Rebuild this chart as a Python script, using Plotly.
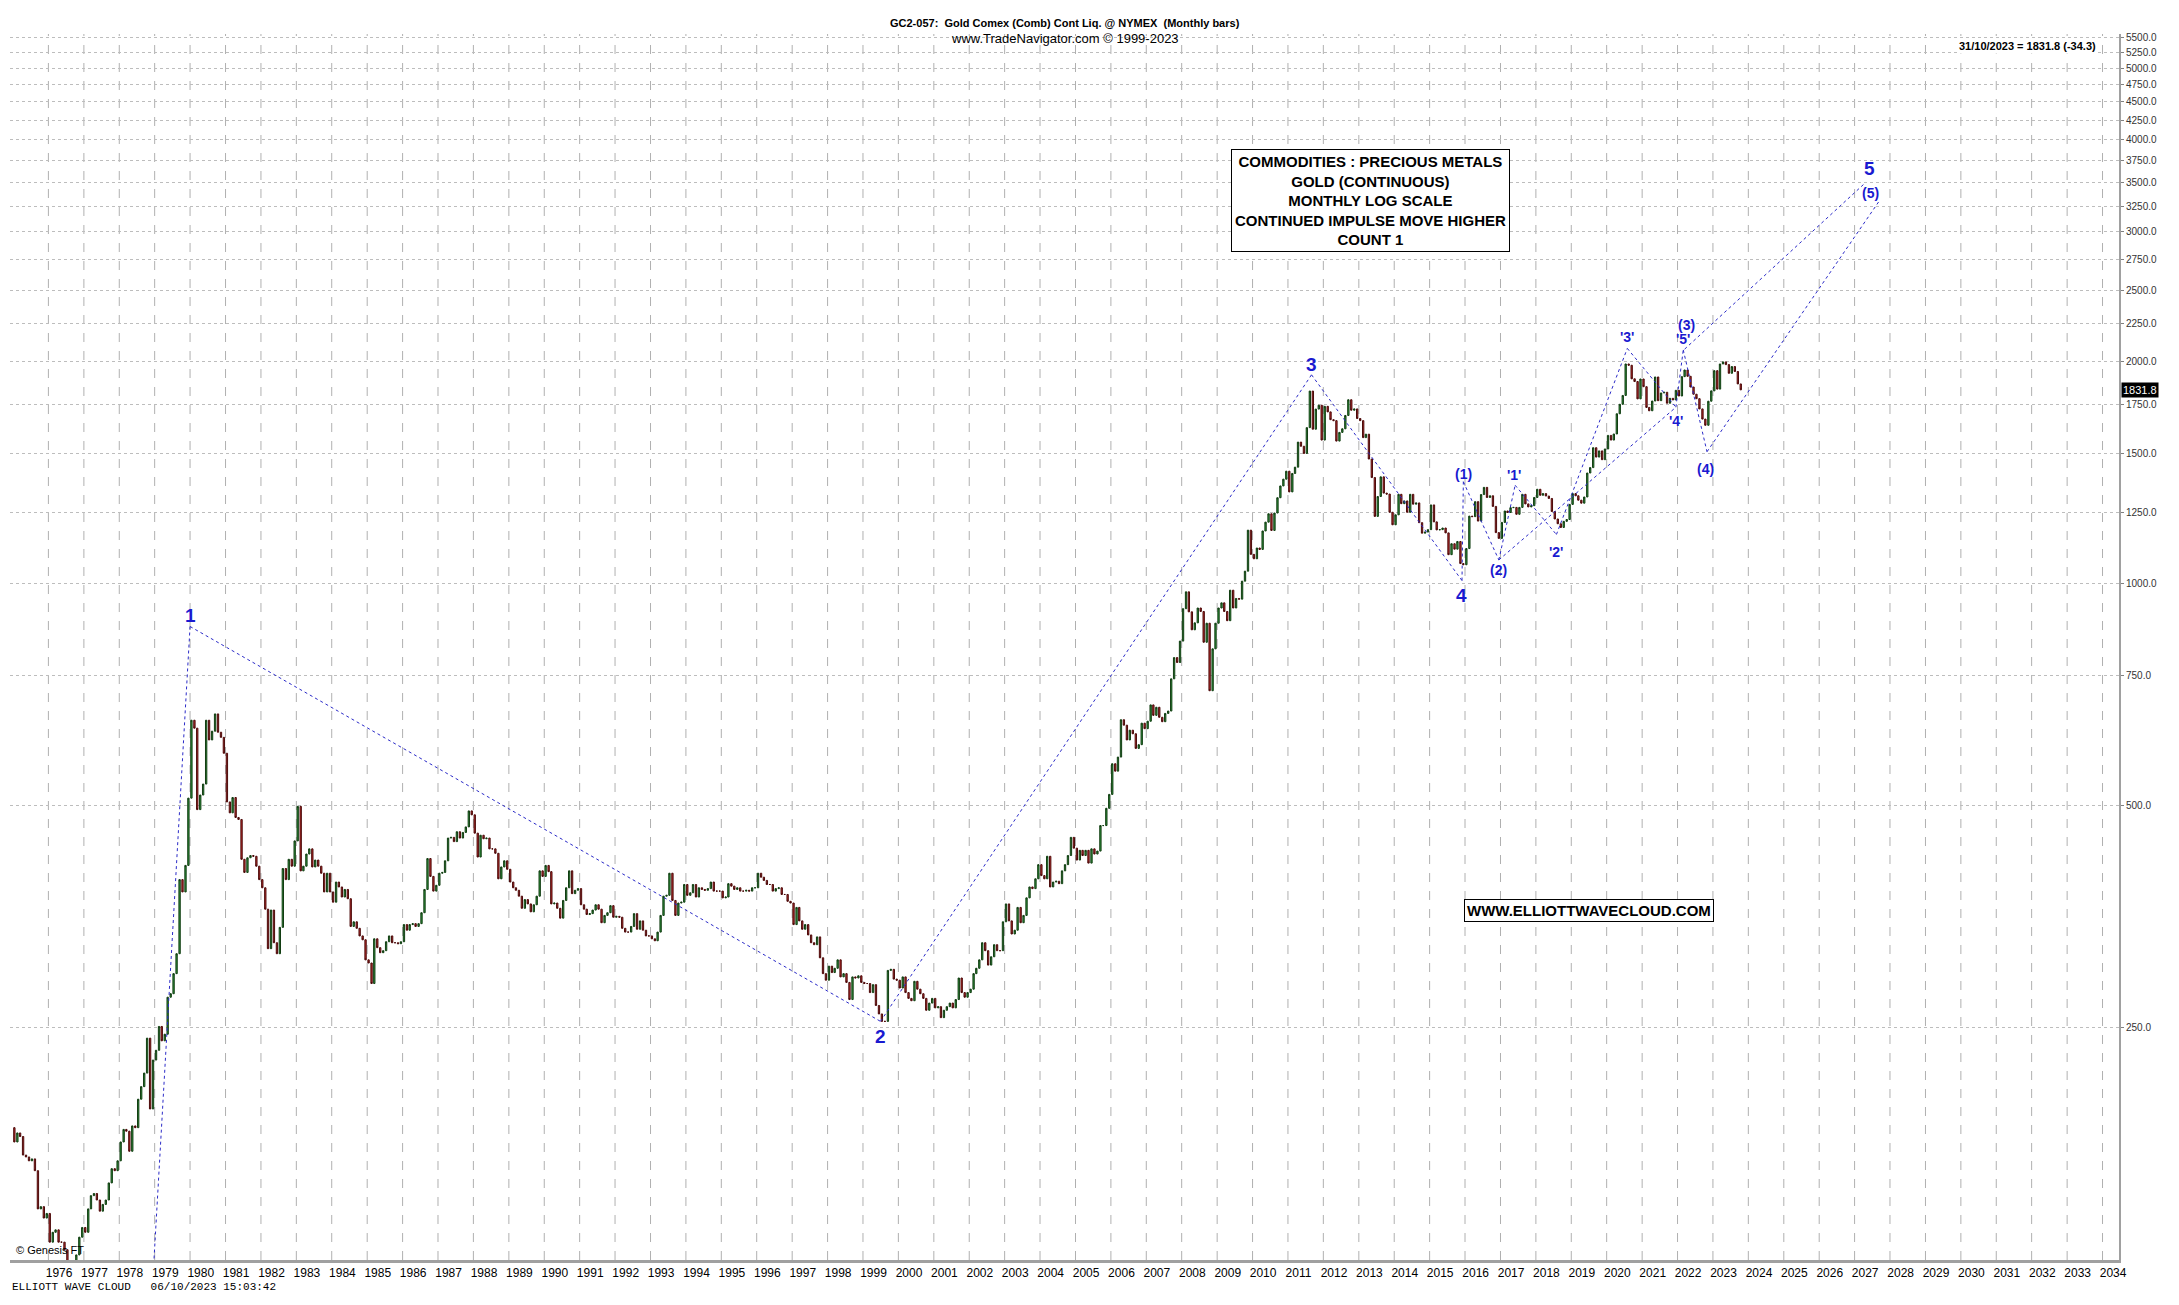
import math
import plotly.graph_objects as go

# monthly closes (Jan..Dec), gold continuous contract
years = list(range(1975, 2024))
first_open = 183.0
closes = [
    [175, 180, 178, 168, 167, 165, 166, 160, 142, 143, 138, 140],
    [128, 132, 133, 128, 128, 125, 113, 104, 116, 123, 130, 134],
    [132, 142, 148, 149, 146, 141, 144, 146, 154, 161, 160, 165],
    [175, 182, 181, 170, 184, 183, 200, 208, 217, 242, 194, 226],
    [233, 251, 240, 245, 275, 278, 296, 315, 397, 382, 415, 512],
    [653, 637, 494, 517, 535, 653, 614, 631, 666, 629, 619, 589],
    [506, 489, 513, 482, 479, 423, 406, 425, 428, 427, 414, 397],
    [387, 362, 320, 361, 326, 315, 342, 411, 397, 423, 414, 448],
    [499, 408, 414, 430, 437, 413, 422, 414, 405, 382, 405, 382],
    [370, 394, 388, 376, 385, 374, 343, 348, 341, 333, 329, 309],
    [306, 287, 330, 321, 316, 318, 327, 333, 326, 326, 325, 327],
    [345, 339, 345, 346, 343, 346, 358, 385, 424, 401, 383, 390],
    [405, 406, 421, 452, 453, 447, 461, 452, 460, 468, 492, 486],
    [459, 426, 456, 451, 452, 437, 437, 431, 398, 413, 421, 410],
    [394, 387, 384, 377, 363, 373, 368, 359, 367, 377, 408, 401],
    [415, 407, 368, 369, 363, 352, 372, 387, 408, 380, 384, 386],
    [367, 362, 356, 357, 361, 367, 362, 347, 355, 358, 366, 353],
    [354, 353, 341, 337, 337, 343, 357, 340, 349, 339, 333, 333],
    [330, 328, 337, 355, 377, 378, 405, 372, 355, 369, 370, 391],
    [378, 381, 391, 376, 387, 385, 384, 386, 394, 383, 383, 383],
    [375, 376, 392, 389, 385, 387, 383, 383, 384, 383, 387, 387],
    [405, 400, 396, 391, 391, 383, 386, 387, 379, 379, 371, 369],
    [345, 364, 349, 340, 345, 334, 326, 324, 332, 311, 296, 290],
    [303, 297, 301, 309, 293, 296, 288, 273, 293, 292, 294, 288],
    [287, 287, 279, 286, 268, 261, 255, 255, 299, 300, 291, 290],
    [283, 293, 279, 274, 272, 289, 282, 278, 274, 264, 270, 274],
    [266, 267, 258, 264, 267, 270, 266, 273, 292, 279, 275, 279],
    [282, 296, 301, 309, 326, 318, 304, 312, 324, 318, 318, 348],
    [368, 349, 335, 339, 364, 347, 355, 375, 388, 386, 398, 416],
    [402, 398, 427, 388, 394, 395, 392, 408, 416, 428, 453, 438],
    [422, 435, 428, 435, 418, 437, 430, 434, 470, 470, 496, 518],
    [570, 557, 582, 654, 643, 614, 633, 626, 598, 605, 647, 636],
    [651, 685, 663, 680, 659, 650, 667, 672, 743, 794, 782, 836],
    [925, 975, 916, 866, 885, 927, 917, 833, 884, 716, 816, 884],
    [927, 942, 917, 891, 980, 927, 955, 953, 1008, 1040, 1182, 1096],
    [1081, 1118, 1113, 1179, 1212, 1244, 1181, 1247, 1308, 1357, 1386, 1421],
    [1332, 1411, 1439, 1556, 1536, 1502, 1628, 1825, 1620, 1725, 1746, 1566],
    [1740, 1710, 1669, 1664, 1561, 1604, 1622, 1691, 1776, 1719, 1726, 1675],
    [1664, 1578, 1595, 1476, 1393, 1234, 1313, 1396, 1327, 1323, 1250, 1202],
    [1240, 1322, 1284, 1295, 1250, 1322, 1282, 1287, 1210, 1171, 1175, 1184],
    [1279, 1213, 1183, 1184, 1190, 1172, 1095, 1133, 1114, 1141, 1065, 1061],
    [1116, 1235, 1233, 1292, 1216, 1321, 1351, 1309, 1316, 1273, 1173, 1152],
    [1211, 1255, 1249, 1268, 1269, 1242, 1269, 1322, 1283, 1271, 1276, 1309],
    [1343, 1318, 1325, 1315, 1305, 1253, 1224, 1206, 1192, 1215, 1222, 1281],
    [1325, 1316, 1298, 1286, 1311, 1413, 1437, 1529, 1485, 1514, 1473, 1523],
    [1589, 1566, 1596, 1700, 1751, 1800, 1986, 1978, 1896, 1880, 1781, 1895],
    [1850, 1734, 1716, 1769, 1907, 1771, 1814, 1818, 1757, 1784, 1775, 1829],
    [1797, 1909, 1949, 1911, 1848, 1807, 1782, 1726, 1672, 1640, 1768, 1826],
    [1945, 1836, 1986, 1999, 1982, 1929, 1970, 1940, 1866, 1831.8],
]

# Elliott wave count labels: label, date, price
wave_labels = ["1", "2", "3", "4", "5", "(1)", "(2)", "(3)", "(4)", "(5)",
               "'1'", "'2'", "'3'", "'4'", "'5'"]
wave_dates = ["1980-01-01", "1999-07-01", "2011-09-01", "2015-12-01", "2027-06-01",
              "2015-12-15", "2016-12-15", "2022-04-01", "2022-10-15", "2027-06-15",
              "2017-05-20", "2018-08-01", "2020-08-01", "2021-12-20", "2022-03-01"]
wave_prices = [905, 243, 1985, 965, 3660, 1410, 1044, 2245, 1430, 3390,
               1403, 1103, 2158, 1662, 2145]
wave_big = [True] * 5 + [False] * 10

# dotted count lines (start date, start price, end date, end price)
line_x0 = ["1978-12-15", "1980-01-01", "1999-07-01", "2011-09-01", "2015-12-01",
           "2015-12-15", "2016-12-15", "2017-06-01", "2018-08-01", "2020-08-01",
           "2021-12-15", "2022-03-01", "2022-03-15", "2022-11-01", "2016-12-15"]
line_y0 = [115, 875, 255, 1920, 1010, 1375, 1077, 1360, 1166, 2085, 1735, 2075, 2080, 1510, 1077]
line_x1 = ["1980-01-01", "1999-07-01", "2011-09-01", "2015-12-01", "2015-12-15",
           "2016-12-15", "2017-06-01", "2018-08-01", "2020-08-01", "2021-12-15",
           "2022-03-01", "2022-11-01", "2027-04-10", "2027-09-10", "2021-12-15"]
line_y1 = [875, 255, 1920, 1010, 1375, 1077, 1360, 1166, 2085, 1735, 2075, 1510, 3485, 3300, 1735]

y_ticks = list(range(250, 5501, 250))
tick_years = list(range(1976, 2035))

dates, opens, highs, lows, cls = [], [], [], [], []
prev = first_open
for yr, row in zip(years, closes):
    for m, c in enumerate(row):
        dates.append(f"{yr}-{m + 1:02d}-15")
        opens.append(prev)
        cls.append(c)
        highs.append(max(prev, c))
        lows.append(min(prev, c))
        prev = c

fig = go.Figure()
fig.add_trace(go.Candlestick(
    x=dates, open=opens, high=highs, low=lows, close=cls,
    increasing=dict(line=dict(color="#123d12", width=1), fillcolor="#2f9e3f"),
    decreasing=dict(line=dict(color="#4a0a0a", width=1), fillcolor="#c9302c"),
    whiskerwidth=0, showlegend=False, hoverinfo="skip",
))

for x0, y0, x1, y1 in zip(line_x0, line_y0, line_x1, line_y1):
    fig.add_trace(go.Scatter(x=[x0, x1], y=[y0, y1], mode="lines",
                             line=dict(color="#2b2bc8", width=1, dash="dot"),
                             showlegend=False, hoverinfo="skip"))

# annotations on a log axis take log10 positions
for lab, d, p, big in zip(wave_labels, wave_dates, wave_prices, wave_big):
    fig.add_annotation(x=d, y=math.log10(p), text=f"<b>{lab}</b>", showarrow=False,
                       font=dict(family="Liberation Sans", size=19 if big else 14, color="#1a1ad0"))

# year grid lines at year starts
shapes = [dict(type="line", xref="x", yref="paper", x0=f"{y}-01-01", x1=f"{y}-01-01",
               y0=0, y1=1, line=dict(color="#b0b0b0", width=1, dash="dash"), layer="below")
          for y in range(1976, 2035)]

fig.add_annotation(
    xref="paper", yref="paper", x=0.645, y=0.906, showarrow=False,
    text="<b>COMMODITIES : PRECIOUS METALS<br>GOLD (CONTINUOUS)<br>MONTHLY LOG SCALE<br>"
         "CONTINUED IMPULSE MOVE HIGHER<br>COUNT 1</b>",
    font=dict(family="Liberation Sans", size=15, color="black"),
    bgcolor="white", bordercolor="black", borderwidth=1, borderpad=3)
fig.add_annotation(
    xref="paper", yref="paper", x=0.808, y=0.276, showarrow=False,
    text="<b>WWW.ELLIOTTWAVECLOUD.COM</b>",
    font=dict(family="Liberation Sans", size=15, color="black"),
    bgcolor="white", bordercolor="black", borderwidth=1, borderpad=2)

fig.add_annotation(xref="paper", yref="paper", x=0.5, y=1.0, yshift=19, showarrow=False,
                   text="<b>GC2-057:  Gold Comex (Comb) Cont Liq. @ NYMEX  (Monthly bars)</b>",
                   font=dict(family="Liberation Sans", size=11, color="black"))
fig.add_annotation(xref="paper", yref="paper", x=0.5, y=1.0, yshift=5, showarrow=False,
                   text="www.TradeNavigator.com © 1999-2023",
                   font=dict(family="Liberation Sans", size=13, color="black"))
fig.add_annotation(xref="paper", yref="paper", x=0.99, y=0.997, xanchor="right", yanchor="top",
                   showarrow=False, text="<b>31/10/2023 = 1831.8 (-34.3)</b>",
                   font=dict(family="Liberation Sans", size=11, color="black"), bgcolor="white")
fig.add_annotation(xref="paper", yref="paper", x=0.002, y=0.002, xanchor="left", yanchor="bottom",
                   showarrow=False, text="© Genesis FT",
                   font=dict(family="Liberation Sans", size=11, color="black"))
fig.add_annotation(xref="paper", yref="paper", x=0.0, y=0.0, xanchor="left", yanchor="top",
                   yshift=-19, showarrow=False, text="ELLIOTT WAVE CLOUD   06/10/2023 15:03:42",
                   font=dict(family="Liberation Mono", size=11, color="black"))
fig.add_annotation(xref="paper", yref="y", x=1.0, y=math.log10(cls[-1]), xanchor="left",
                   xshift=2, showarrow=False,
                   text="1831.8", font=dict(family="Liberation Sans", size=11, color="white"),
                   bgcolor="black", borderpad=1)

fig.update_layout(
    width=2163, height=1288,
    margin=dict(l=2, r=52, t=26, b=36),
    plot_bgcolor="white", paper_bgcolor="white",
    shapes=shapes,
    xaxis=dict(
        type="date", range=["1974-12-01", "2034-06-20"], rangeslider=dict(visible=False),
        tickvals=[f"{y}-04-20" for y in tick_years], ticktext=[str(y) for y in tick_years],
        showgrid=False, ticks="", showline=True, linecolor="#a0a0a0", linewidth=3,
        tickfont=dict(family="Liberation Sans", size=12, color="black"),
    ),
    yaxis=dict(
        type="log", side="right", range=[2.083, 3.7454],
        tickvals=y_ticks, ticktext=[f"{v:.1f}" for v in y_ticks],
        showgrid=True, gridcolor="#bdbdbd", griddash="dot", gridwidth=1,
        ticks="outside", ticklen=3, tickcolor="#808080",
        showline=True, linecolor="#a0a0a0", linewidth=2,
        tickfont=dict(family="Liberation Sans", size=10, color="#333"),
        zeroline=False,
    ),
)

fig.write_html("out.html")
